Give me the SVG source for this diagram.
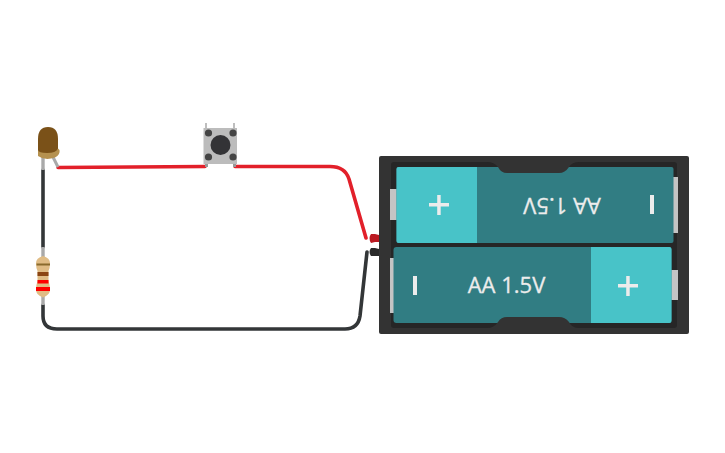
<svg xmlns="http://www.w3.org/2000/svg" width="725" height="453" viewBox="0 0 725 453">
<style>
.w{fill:none;stroke-width:3.6;stroke-linecap:round;stroke-linejoin:round}
.red{stroke:#e2202a}.blk{stroke:#333638}
.lead{fill:none;stroke:#a9a9a9;stroke-linecap:butt}
.pad{fill:#444}
.t{fill:#ececec;stroke:#ececec;stroke-width:.3;font-family:"Open Sans","Noto Sans",sans-serif;font-size:22px;text-anchor:middle}
.sym{fill:#ececec}
.teal{fill:#317d83}.cyan{fill:#48c3c8}.clip{fill:#c4c4c4}
</style>
<rect width="725" height="453" fill="#fff"/>
<g id="connectors">
<path class="w red" d="M58 167.500L205 166.500"/>
<path class="w red" d="M235 166.500H330Q345 166.500 349 179L366 238"/>
<path class="w blk" d="M43 170V247"/>
<path class="w blk" d="M43 305V316Q43 329 57 329H345Q358 329 360 316L367 252"/>
</g>
<g id="led">
<path class="lead" stroke-width="3.400" d="M43 156V170"/>
<path class="lead" stroke-width="3" d="M53 157L58 167"/>
<path d="M38 156V139Q38 127 48 127Q58 127 58 139V152Z" fill="#7a5118"/>
<path d="M38 150Q38.500 153 47 153Q56 153 58 148.500L59.500 150Q60.500 155 55 157.500Q45 161 38 156Z" fill="#b5914f"/>
</g>
<g id="resistor">
<path class="lead" stroke-width="3.400" d="M43 247V258M43 294V305"/>
<path d="M43 256Q50 258 50 263Q50 268 48.500 271V281Q50 285 50 290Q50 295 43 297.500Q36 295 36 290Q36 285 37.500 281V271Q36 268 36 263Q36 258 43 256Z" fill="#e0bc85"/>
<rect x="36.500" y="263.500" width="13.500" height="2" fill="#8a6a2c"/>
<rect x="37.500" y="272" width="11" height="4" fill="#8b4513"/>
<rect x="37.500" y="280" width="11" height="3.500" fill="#f00"/>
<rect x="36" y="287" width="14" height="4" fill="#f00"/>
</g>
<g id="pushbutton">
<path class="lead" stroke-width="1.500" d="M206 123V129M234 123V129" stroke="#777"/>
<rect x="203.500" y="128" width="33.500" height="36" fill="#bcbcbc"/>
<rect x="205" y="164" width="3" height="3" fill="#999"/>
<rect x="233" y="164" width="3" height="3" fill="#999"/>
<circle class="pad" cx="208.500" cy="133" r="3.600"/>
<circle class="pad" cx="233" cy="133" r="3.600"/>
<circle class="pad" cx="208.500" cy="157" r="3.600"/>
<circle class="pad" cx="233" cy="157" r="3.600"/>
<circle cx="220.500" cy="145" r="10" fill="#333336"/>
</g>
<g id="battery">
<rect x="379" y="156" width="310" height="178" rx="2" fill="#333"/>
<path d="M371 234H375L379 235V242H375L371 243Q368 238 371 234Z" fill="#bb1a22"/>
<path d="M371 248H375L379 249V256H375L371 256Q368 252 371 248Z" fill="#2a2a2a"/>
<rect x="391" y="162" width="286" height="166" rx="3" fill="#262626"/>
<rect class="clip" x="390" y="189" width="7" height="31"/>
<rect class="clip" x="673" y="177" width="5" height="56"/>
<rect class="clip" x="390" y="258" width="4" height="55"/>
<rect class="clip" x="671" y="270" width="7" height="30"/>
<rect class="teal" x="396.500" y="167" width="277" height="76" rx="2"/>
<path class="cyan" d="M477 167H398.500Q396.500 167 396.500 169V241Q396.500 243 398.500 243H477Z"/>
<rect class="teal" x="393.500" y="247" width="278" height="76" rx="3"/>
<path class="cyan" d="M591 247H669.500Q671.500 247 671.500 249V321Q671.500 323 669.500 323H591Z"/>
<path d="M485 156V162H487Q494 162 498 167Q501 173 507 173H559Q565 173 569 167Q572 162 579 162H581V156Z" fill="#333"/>
<path d="M485 334V328H487Q494 328 498 322Q501 317 507 317H559Q565 317 569 322Q572 328 579 328H581V334Z" fill="#333"/>
<rect class="sym" x="429" y="203" width="20" height="3.500"/><rect class="sym" x="437.200" y="195" width="3.500" height="20"/>
<rect class="sym" x="618" y="284" width="20" height="3.500"/><rect class="sym" x="626.200" y="276" width="3.500" height="20"/>
<rect class="sym" x="650" y="195" width="4" height="19"/>
<rect class="sym" x="413" y="276" width="4" height="19"/>
<text class="t" x="506.500" y="292.500">AA 1.5V</text>
<text class="t" transform="rotate(180 562 205)" x="562" y="212.500">AA 1.5V</text>
</g>
</svg>
